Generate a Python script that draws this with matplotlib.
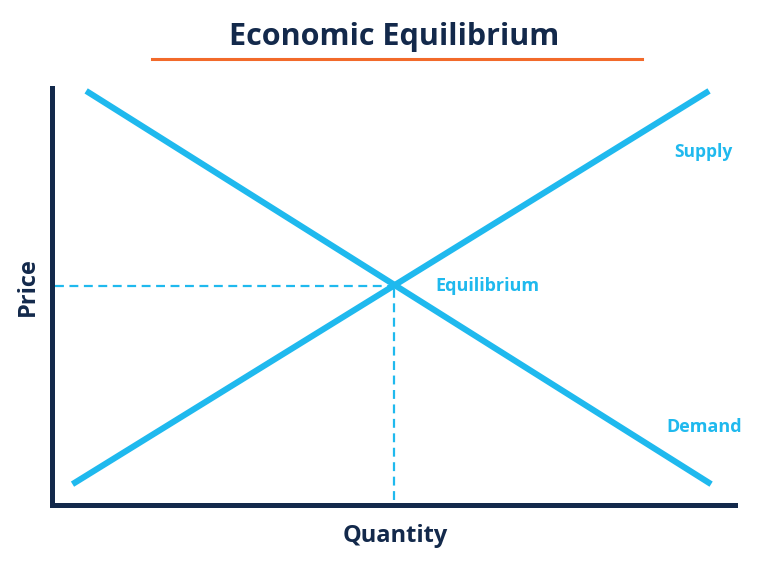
import matplotlib.pyplot as plt

# chart data (axes run 0..100)
supply_q = [3, 96.2]
supply_p = [5, 99.3]
demand_q = [5, 96.5]
demand_p = [99.3, 5]
eq_q = 50
eq_p = 52.6

navy = '#13294B'
blue = '#1FB9EE'
orange = '#F26A2A'

plt.rcParams['font.family'] = ['Open Sans', 'DejaVu Sans']

fig = plt.figure(figsize=(7.68, 5.68), dpi=100)
ax = fig.add_axes([52/768, 1 - 505/568, 683/768, 417/568])
ax.set_xlim(0, 100)
ax.set_ylim(0, 100)

ax.plot(supply_q, supply_p, color=blue, lw=4.4, solid_capstyle='butt')
ax.plot(demand_q, demand_p, color=blue, lw=4.4, solid_capstyle='butt')
ax.plot([0.5, eq_q], [eq_p, eq_p], color=blue, lw=1.6, ls=(0, (4, 2.5)))
ax.plot([eq_q, eq_q], [1.2, eq_p], color=blue, lw=1.6, ls=(0, (4, 2.5)))

ax.text(95.3, 84.7, 'Supply', color=blue, fontsize=12.5, fontweight='bold', ha='center', va='center')
ax.text(56.1, eq_p - 0.2, 'Equilibrium', color=blue, fontsize=13, fontweight='bold', ha='left', va='center')
ax.text(95.5, 18.8, 'Demand', color=blue, fontsize=13, fontweight='bold', ha='center', va='center')

for s in ['top', 'right']:
    ax.spines[s].set_visible(False)
for s in ['left', 'bottom']:
    ax.spines[s].set_color(navy)
    ax.spines[s].set_linewidth(3.6)
ax.set_xticks([])
ax.set_yticks([])
ax.set_xlabel('Quantity', color=navy, fontsize=17, fontweight='bold')
ax.set_ylabel('Price', color=navy, fontsize=17, fontweight='bold')
ax.xaxis.set_label_coords(0.503, -31/417, transform=ax.transAxes)
ax.yaxis.set_label_coords(-24/683, 0.523, transform=ax.transAxes)
ax.xaxis.label.set_va('center')
ax.yaxis.label.set_va('center')

fig.text(394/768, 1 - 37/568, 'Economic Equilibrium', color=navy, fontsize=22,
         fontweight='bold', ha='center', va='center')
fig.add_artist(plt.Line2D([152/768, 642/768], [1 - 59/568, 1 - 59/568], color=orange, lw=2.2))

fig.savefig('out.png', dpi=100)
